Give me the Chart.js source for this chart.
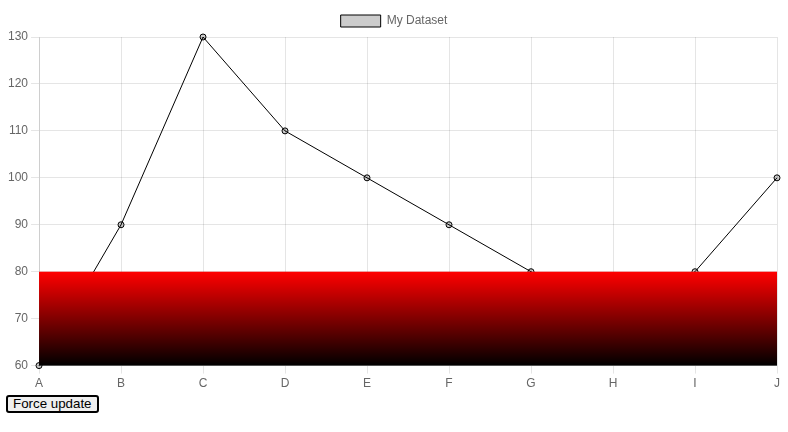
<!DOCTYPE html>
<html>
<head>
<meta charset="utf-8">
<script src="https://cdn.jsdelivr.net/npm/chart.js@4"></script>
<style>
body { margin: 5px; font-family: Arial, "Liberation Sans", sans-serif; }
#wrap { width: 778px; height: 389px; position: relative; }
button { font: 13.333px Arial, "Liberation Sans", sans-serif; border: 2px solid #000; border-radius: 3px; background: #efefef; padding: 0 5px; height: 18px; box-sizing: border-box; line-height: 14px; color: #000; margin: 1px 0 0 1px; display: block; }
</style>
</head>
<body>
<div id="wrap"><canvas id="c"></canvas></div>
<button id="btn">Force update</button>
<script>
const labels = ['A','B','C','D','E','F','G','H','I','J'];
const values = [60, 90, 130, 110, 100, 90, 80, 70, 80, 100];
const bandTop = 80;
const bandBottom = 60;

const bandPlugin = {
  id: 'band',
  afterDatasetsDraw(chart) {
    const {ctx, chartArea, scales} = chart;
    const yTop = scales.y.getPixelForValue(bandTop);
    const yBot = scales.y.getPixelForValue(bandBottom);
    const g = ctx.createLinearGradient(0, yTop, 0, yBot);
    g.addColorStop(0, 'rgb(255,0,0)');
    g.addColorStop(1, 'rgb(0,0,0)');
    ctx.save();
    ctx.fillStyle = g;
    ctx.fillRect(chartArea.left, yTop, chartArea.right - chartArea.left, yBot - yTop);
    ctx.restore();
  }
};

Chart.defaults.font.family = 'Arial, "Liberation Sans", sans-serif';
Chart.defaults.color = '#666';

new Chart(document.getElementById('c'), {
  type: 'line',
  data: {
    labels: labels,
    datasets: [{
      label: 'My Dataset',
      data: values,
      borderColor: '#000',
      backgroundColor: 'rgba(0,0,0,0.2)',
      borderWidth: 1,
      pointRadius: 3,
      pointBorderWidth: 1,
      tension: 0,
      fill: false
    }]
  },
  options: {
    responsive: true,
    maintainAspectRatio: false,
    animation: false,
    plugins: { legend: { labels: { boxWidth: 40 } } },
    scales: {
      x: { grid: { color: 'rgba(0,0,0,0.1)' } },
      y: { grid: { color: 'rgba(0,0,0,0.1)' } }
    }
  },
  plugins: [bandPlugin]
});
</script>
</body>
</html>
